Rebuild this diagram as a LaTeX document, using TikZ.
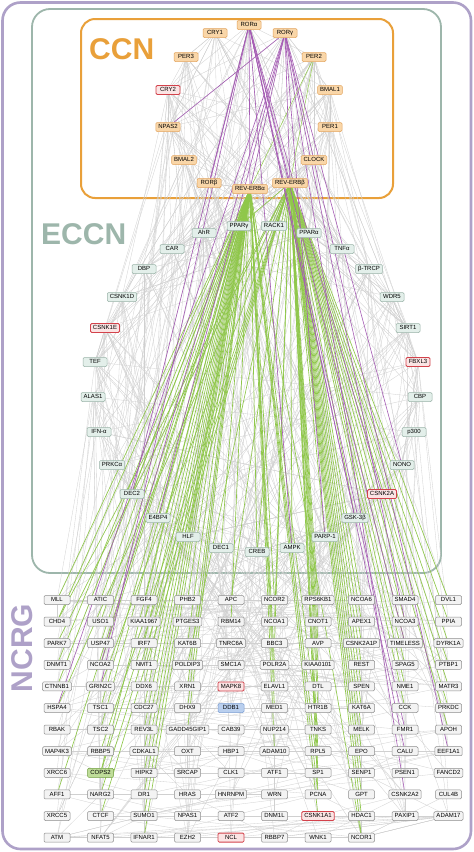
\documentclass[tikz,border=0pt]{standalone}
\usepackage{fontspec}
\setmainfont{Liberation Sans}
\definecolor{ccnor}{HTML}{E9A03A}
\definecolor{ccnfill}{HTML}{F9D6A8}
\definecolor{ccnbd}{HTML}{E3A45E}
\definecolor{ecol}{HTML}{9DB6AB}
\definecolor{efill}{HTML}{E3EFEA}
\definecolor{ebd}{HTML}{9AB3A8}
\definecolor{ncol}{HTML}{AEA1C8}
\definecolor{nfill}{HTML}{F3F3F3}
\definecolor{nbd}{HTML}{8E8E8E}
\definecolor{redbd}{HTML}{D3424B}
\definecolor{redfill}{HTML}{FBE4E4}
\definecolor{bluefill}{HTML}{B9CFEE}
\definecolor{bluebd}{HTML}{7C9ED2}
\definecolor{greenfill}{HTML}{BFDD99}
\definecolor{greenbd}{HTML}{6F9E3E}
\definecolor{gline}{HTML}{8FC74A}
\definecolor{pline}{HTML}{A55CB4}
\definecolor{grline}{HTML}{D0D0D0}
\pgfdeclarelayer{back}
\pgfdeclarelayer{edges}
\pgfsetlayers{back,edges,main}
\tikzset{
  gbox/.style={rounded corners=1.2pt, font=\fontsize{6}{6}\selectfont, inner xsep=2.5pt, inner ysep=0pt,
    minimum height=9pt, text height=4.4pt, text depth=0.6pt, line width=0.5pt},
  ccnnode/.style={gbox, fill=ccnfill, draw=ccnbd, minimum width=24pt},
  eccnnode/.style={gbox, fill=efill, draw=ebd, minimum width=24pt},
  ncrgnode/.style={gbox, fill=nfill, draw=nbd, minimum width=26pt},
  hot/.style={draw=redbd, fill=redfill, line width=0.8pt},
  n5-5/.style={hot}, n12-5/.style={hot}, n11-7/.style={hot},
  n6-5/.style={fill=bluefill, draw=bluebd},
  n9-2/.style={fill=greenfill, draw=greenbd},
  gr/.style={draw=grline, line width=0.3pt},
  gre/.style={draw=gline, line width=0.65pt},
  pur/.style={draw=pline, line width=0.6pt},
  biglabel/.style={font=\bfseries\fontsize{30}{30}\selectfont, inner sep=0pt}
}
\begin{document}
\begin{tikzpicture}[x=1pt,y=-1pt]
\useasboundingbox (0,0) rectangle (474,852);
\begin{pgfonlayer}{back}
\fill[white] (0,0) rectangle (474,852);
\draw[ncol, line width=2.6pt, rounded corners=18pt] (2.5,2.5) rectangle (471,849);
\draw[ecol, line width=1.8pt, rounded corners=18pt] (32,9) rectangle (441,573);
\draw[ccnor, line width=2pt, rounded corners=14pt] (81,19) rectangle (393,198);
\end{pgfonlayer}
% labels
\node[biglabel, text=ccnor, anchor=west] (lccn) at (89,49) {CCN};
\node[biglabel, text=ecol, anchor=west] (leccn) at (41,234) {ECCN};
\node[biglabel, text=ncol, rotate=90] (lncrg) at (22,648) {NCRG};
% CCN nodes
\node[ccnnode] (c1) at (249,25) {RORα};
\node[ccnnode] (c2) at (215,33) {CRY1};
\node[ccnnode] (c3) at (285,33) {RORγ};
\node[ccnnode] (c4) at (186,57) {PER3};
\node[ccnnode] (c5) at (314,57) {PER2};
\node[ccnnode, hot] (c6) at (168,90) {CRY2};
\node[ccnnode] (c7) at (330,90) {BMAL1};
\node[ccnnode] (c8) at (168,127) {NPAS2};
\node[ccnnode] (c9) at (330,127) {PER1};
\node[ccnnode] (c10) at (184,160) {BMAL2};
\node[ccnnode] (c11) at (314,160) {CLOCK};
\node[ccnnode] (c12) at (209,183) {RORβ};
\node[ccnnode] (c13) at (290,183) {REV-ERBβ};
\node[ccnnode] (c14) at (250,189) {REV-ERBα};
% ECCN nodes
\node[eccnnode] (e1) at (239,226) {PPARγ};
\node[eccnnode] (e2) at (274,226) {RACK1};
\node[eccnnode] (e3) at (204,233) {AhR};
\node[eccnnode] (e4) at (309,233) {PPARα};
\node[eccnnode] (e5) at (172,249) {CAR};
\node[eccnnode] (e6) at (342,249) {TNFα};
\node[eccnnode] (e7) at (144,269) {DBP};
\node[eccnnode] (e8) at (369,269) {β-TRCP};
\node[eccnnode] (e9) at (122,297) {CSNK1D};
\node[eccnnode] (e10) at (392,297) {WDR5};
\node[eccnnode, hot] (e11) at (105,328) {CSNK1E};
\node[eccnnode] (e12) at (408,328) {SIRT1};
\node[eccnnode] (e13) at (95,362) {TEF};
\node[eccnnode, hot] (e14) at (418,362) {FBXL3};
\node[eccnnode] (e15) at (93,397) {ALAS1};
\node[eccnnode] (e16) at (420,397) {CBP};
\node[eccnnode] (e17) at (99,432) {IFN-α};
\node[eccnnode] (e18) at (414,432) {p300};
\node[eccnnode] (e19) at (112,465) {PRKCα};
\node[eccnnode] (e20) at (402,465) {NONO};
\node[eccnnode] (e21) at (132,494) {DEC2};
\node[eccnnode, hot] (e22) at (382,494) {CSNK2A};
\node[eccnnode] (e23) at (158,518) {E4BP4};
\node[eccnnode] (e24) at (355,518) {GSK-3β};
\node[eccnnode] (e25) at (188,537) {HLF};
\node[eccnnode] (e26) at (325,537) {PARP-1};
\node[eccnnode] (e27) at (221,548) {DEC1};
\node[eccnnode] (e28) at (292,548) {AMPK};
\node[eccnnode] (e29) at (257,552) {CREB};
% NCRG grid
\foreach \row [count=\rw] in {
 {MLL,ATIC,FGF4,PHB2,APC,NCOR2,RPS6KB1,NCOA6,SMAD4,DVL1},
 {CHD4,USO1,KIAA1967,PTGES3,RBM14,NCOA1,CNOT1,APEX1,NCOA3,PPIA},
 {PARK7,USP47,IRF7,KAT6B,TNRC6A,BBC3,AVP,CSNK2A1P,TIMELESS,DYRK1A},
 {DNMT1,NCOA2,NMT1,POLDIP3,SMC1A,POLR2A,KIAA0101,REST,SPAG5,PTBP1},
 {CTNNB1,GRIN2C,DDX6,XRN1,MAPK8,ELAVL1,DTL,SPEN,NME1,MATR3},
 {HSPA4,TSC1,CDC27,DHX9,DDB1,MED1,HTR1B,KAT6A,CCK,PRKDC},
 {RBAK,TSC2,REV3L,GADD45GIP1,CAB39,NUP214,TNKS,MELK,FMR1,APOH},
 {MAP4K3,RBBP5,CDKAL1,OXT,HBP1,ADAM10,RPL5,EPO,CALU,EEF1A1},
 {XRCC6,COPS2,HIPK2,SRCAP,CLK1,ATF1,SP1,SENP1,PSEN1,FANCD2},
 {AFF1,NARG2,DR1,HRAS,HNRNPM,WRN,PCNA,GPT,CSNK2A2,CUL4B},
 {XRCC5,CTCF,SUMO1,NPAS1,ATF2,DNM1L,CSNK1A1,HDAC1,PAXIP1,ADAM17},
 {ATM,NFAT5,IFNAR1,EZH2,NCL,RBBP7,WNK1,NCOR1}}{
  \foreach \g [count=\cl] in \row {
    \node[ncrgnode, n\rw-\cl/.try] (g\rw-\cl) at ({57+43.5*(\cl-1)},{600+21.6*(\rw-1)}) {\g};
  }
}
% edges
\begin{pgfonlayer}{edges}
\pgfmathsetseed{12}
\foreach \i in {1,...,55}{\pgfmathrandominteger{\a}{1}{14}\pgfmathrandominteger{\b}{1}{14}\ifnum\a=\b\else\draw[gr] (c\a) -- (c\b);\fi}
\foreach \i in {1,...,110}{\pgfmathrandominteger{\a}{1}{14}\pgfmathrandominteger{\b}{1}{29}\draw[gr] (c\a) -- (e\b);}
\foreach \i in {1,...,60}{\pgfmathrandominteger{\a}{1}{29}\pgfmathrandominteger{\d}{2}{6}%
  \pgfmathtruncatemacro{\b}{min(29,\a+\d)}\ifnum\a=\b\else\draw[gr] (e\a) -- (e\b);\fi}
\foreach \i in {1,...,230}{\pgfmathrandominteger{\a}{1}{29}\pgfmathrandominteger{\k}{1}{118}%
  \pgfmathtruncatemacro{\rw}{(\k-1)/10+1}\pgfmathtruncatemacro{\cl}{mod(\k-1,10)+1}\draw[gr] (e\a) -- (g\rw-\cl);}
\foreach \i in {1,...,60}{\pgfmathrandominteger{\a}{1}{14}\pgfmathrandominteger{\k}{1}{118}%
  \pgfmathtruncatemacro{\rw}{(\k-1)/10+1}\pgfmathtruncatemacro{\cl}{mod(\k-1,10)+1}\draw[gr] (c\a) -- (g\rw-\cl);}
\foreach \i in {1,...,180}{\pgfmathrandominteger{\k}{1}{118}\pgfmathrandominteger{\d}{-25}{25}%
  \pgfmathtruncatemacro{\m}{max(1,min(118,\k+\d))}%
  \pgfmathtruncatemacro{\rw}{(\k-1)/10+1}\pgfmathtruncatemacro{\cl}{mod(\k-1,10)+1}%
  \pgfmathtruncatemacro{\ra}{(\m-1)/10+1}\pgfmathtruncatemacro{\ca}{mod(\m-1,10)+1}%
  \ifnum\k=\m\else\draw[gr] (g\rw-\cl) -- (g\ra-\ca);\fi}
% green
\foreach \t in {1-1,1-2,1-3,1-4,1-6,2-1,2-2,2-3,2-5,3-2,3-3,3-4,4-1,4-2,4-3,4-6,5-1,5-3,5-4,5-6,6-2,6-3,6-4,6-6,
  7-2,7-3,7-4,7-7,8-3,8-6,9-2,9-3,9-7,10-1,10-3,10-7,11-3,11-7,12-3,12-8}{\draw[gre] (c14) -- (g\t);}
\foreach \t in {23,25,27,29,21}{\draw[gre] (c14) -- (e\t);}
\foreach \t in {1-5,1-7,1-8,1-9,1-10,2-6,2-7,2-8,2-9,2-10,3-6,3-7,3-8,3-9,3-10,4-7,4-8,4-9,4-10,5-7,5-8,5-9,5-10,
  6-7,6-8,6-9,6-10,7-8,7-10,8-7,8-8,9-8,10-8,11-8,12-8,2-1,3-1,4-4,5-2,6-1,8-2,9-2,10-2,11-2,9-7,10-7}{\draw[gre] (c13) -- (g\t);}
\foreach \t in {28,26,24,1,2,29}{\draw[gre] (c13) -- (e\t);}
\draw[gre, line width=0.5pt] (c5) -- (c14);
\draw[gre, line width=0.5pt] (c5) -- (c13);
% purple
\foreach \t in {13,14,12}{\draw[pur] (c1) -- (c\t);}
\foreach \t in {24,22,28,21}{\draw[pur] (c1) -- (e\t);}
\foreach \t in {7-9,8-9,3-9,5-2}{\draw[pur] (c1) -- (g\t);}
\foreach \t in {8,13,14}{\draw[pur] (c3) -- (c\t);}
\foreach \t in {26,20,23}{\draw[pur] (c3) -- (e\t);}
\foreach \t in {4-2,10-9,8-10,2-9,6-1}{\draw[pur] (c3) -- (g\t);}
\end{pgfonlayer}
\end{tikzpicture}
\end{document}
